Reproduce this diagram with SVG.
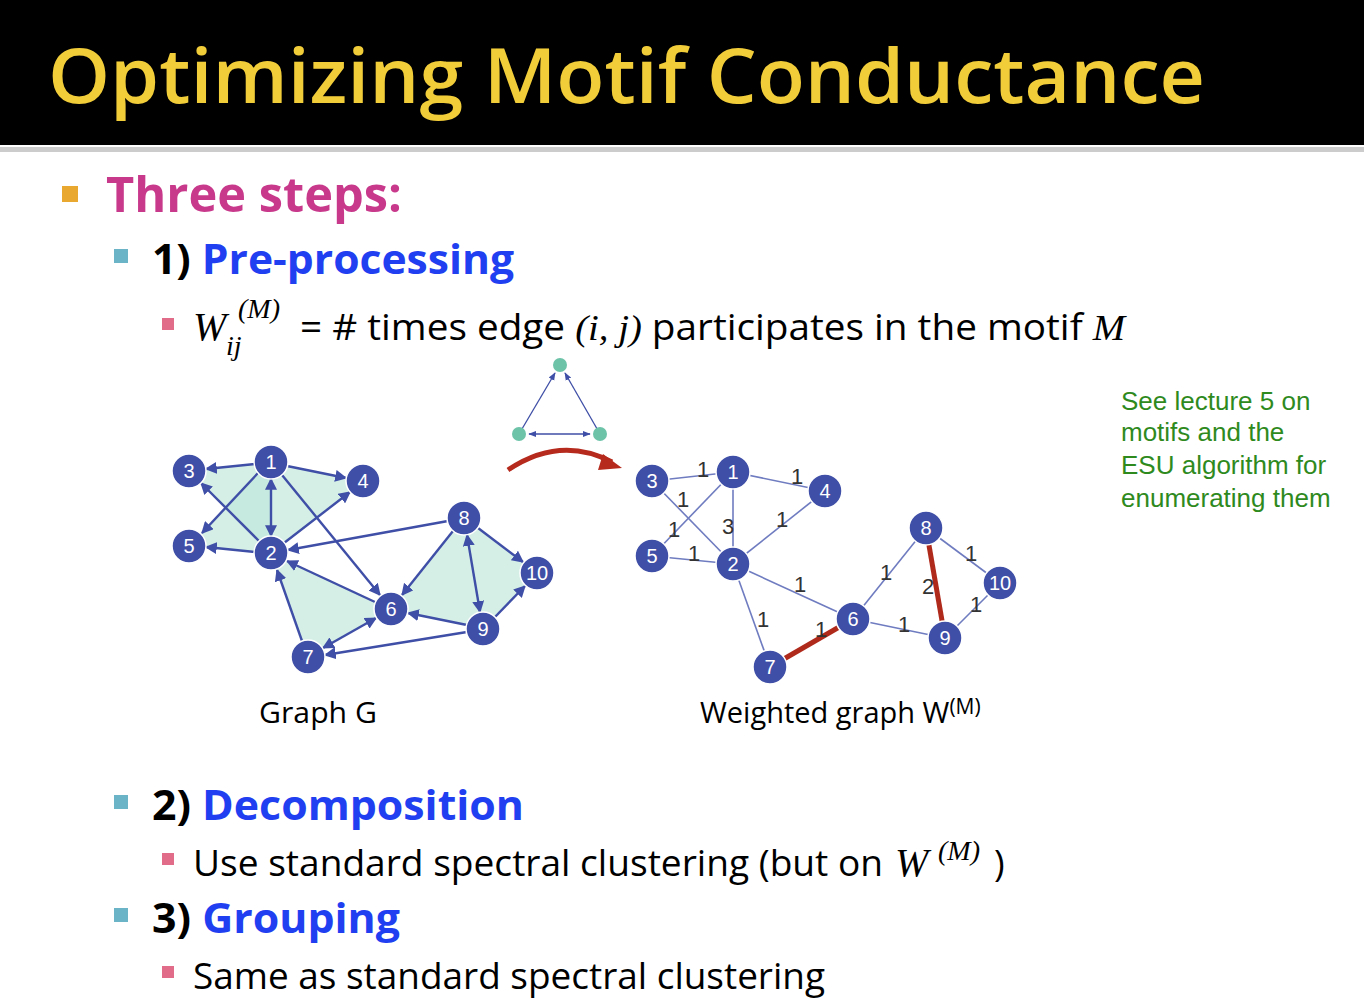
<svg xmlns="http://www.w3.org/2000/svg" width="1364" height="1008" viewBox="0 0 1364 1008">
<style>
.t{font-family:"Open Sans","Liberation Sans",sans-serif}
.m{font-family:"Liberation Serif",serif;font-style:italic}
.e{stroke:#3f4ea6;stroke-width:2.4;fill:none}
.w{stroke:#6f7cc0;stroke-width:1.6;fill:none}
.n circle{fill:#3f4ea6;stroke:#fff;stroke-width:1.5}
.n text{fill:#fff;font-family:"Liberation Sans",sans-serif;font-size:20px;text-anchor:middle}
.l{font-family:"Liberation Sans",sans-serif;font-size:22px;fill:#333}
.g{font-family:"Liberation Sans",sans-serif;font-size:26px;fill:#2f8a1e}
.tri{fill:#bfe6da;fill-opacity:0.65}
</style>
<defs>
<marker id="a" viewBox="0 0 10 10" refX="9" refY="5" markerWidth="5" markerHeight="5" orient="auto-start-reverse"><path d="M0,0L10,5L0,10z" fill="#3f4ea6"/></marker>
<marker id="s" viewBox="0 0 10 10" refX="9" refY="5" markerWidth="6" markerHeight="6" orient="auto-start-reverse"><path d="M0,1L10,5L0,9z" fill="#3f4ea6"/></marker>
</defs>
<rect width="1364" height="145" fill="#000"/>
<rect y="147" width="1364" height="5" fill="#ccc"/>
<text x="48" y="103" class="t" font-size="76" fill="#f2cd3a" font-weight="600" textLength="1157" lengthAdjust="spacingAndGlyphs">Optimizing Motif Conductance</text>
<rect x="62" y="186" width="16" height="16" fill="#e9a930"/>
<text x="106" y="212" class="t" font-size="48" font-weight="bold" fill="#c8398c" textLength="296" lengthAdjust="spacingAndGlyphs">Three steps:</text>
<rect x="114" y="249" width="14" height="14" fill="#6bb4c8"/>
<text x="152" y="274" class="t" font-size="42" font-weight="bold" textLength="362" lengthAdjust="spacingAndGlyphs"><tspan fill="#000">1) </tspan><tspan fill="#1f3ff0">Pre-processing</tspan></text>
<rect x="162" y="318" width="12" height="12" fill="#e06c8a"/>
<text x="193" y="340" class="m" font-size="40">W</text>
<text x="238" y="318" class="m" font-size="28">(M)</text>
<text x="226" y="355" class="m" font-size="28">ij</text>
<text x="300" y="340" class="t" font-size="36" textLength="825" lengthAdjust="spacingAndGlyphs">= # times edge <tspan class="m">(i, j)</tspan> participates in the motif <tspan class="m">M</tspan></text>
<text class="g"><tspan x="1121" y="410">See lecture 5 on</tspan><tspan x="1121" y="441">motifs and the</tspan><tspan x="1121" y="474">ESU algorithm for</tspan><tspan x="1121" y="507">enumerating them</tspan></text>
<g id="motif">
<line x1="519" y1="434" x2="555" y2="373" stroke="#3f4ea6" stroke-width="1.3" marker-end="url(#s)"/>
<line x1="600" y1="434" x2="565" y2="373" stroke="#3f4ea6" stroke-width="1.3" marker-end="url(#s)"/>
<line x1="529" y1="434" x2="590" y2="434" stroke="#3f4ea6" stroke-width="1.3" marker-start="url(#s)" marker-end="url(#s)"/>
<circle cx="560" cy="365" r="7" fill="#6cc3a8"/><circle cx="519" cy="434" r="7" fill="#6cc3a8"/><circle cx="600" cy="434" r="7" fill="#6cc3a8"/>
</g>
<path d="M508,470 Q560,435 612,462" stroke="#b52a1d" stroke-width="5" fill="none"/>
<path d="M509,473 Q560,440 612,466" stroke="#fff" stroke-width="1" fill="none"/>
<path d="M603,454 L622,468 L598,470 z" fill="#b52a1d"/>
<g id="shading">
<polygon class="tri" points="271,462 189,471 271,553"/>
<polygon class="tri" points="271,462 189,546 271,553"/>
<polygon class="tri" points="271,462 363,481 271,553"/>
<polygon class="tri" points="271,553 391,609 308,657"/>
<polygon class="tri" points="464,518 391,609 483,629"/>
<polygon class="tri" points="464,518 537,573 483,629"/>
</g>
<g id="connectors-G" class="e">
<line x1="255" y1="464" x2="206" y2="469" marker-end="url(#a)"/>
<line x1="287" y1="466" x2="346" y2="478" marker-end="url(#a)"/>
<line x1="271" y1="479" x2="271" y2="536" marker-start="url(#a)" marker-end="url(#a)"/>
<line x1="258" y1="473" x2="202" y2="533" marker-end="url(#a)"/>
<line x1="259" y1="541" x2="201" y2="483" marker-end="url(#a)"/>
<line x1="255" y1="552" x2="206" y2="547" marker-end="url(#a)"/>
<line x1="284" y1="543" x2="350" y2="492" marker-end="url(#a)"/>
<line x1="282" y1="475" x2="380" y2="595" marker-end="url(#a)"/>
<line x1="448" y1="521" x2="288" y2="550" marker-end="url(#a)"/>
<line x1="375" y1="602" x2="287" y2="561" marker-end="url(#a)"/>
<line x1="302" y1="641" x2="277" y2="570" marker-end="url(#a)"/>
<line x1="323" y1="648" x2="376" y2="618" marker-start="url(#a)" marker-end="url(#a)"/>
<line x1="467" y1="625" x2="408" y2="613" marker-end="url(#a)"/>
<line x1="467" y1="632" x2="325" y2="655" marker-end="url(#a)"/>
<line x1="453" y1="531" x2="402" y2="595" marker-end="url(#a)"/>
<line x1="467" y1="535" x2="480" y2="612" marker-start="url(#a)" marker-end="url(#a)"/>
<line x1="478" y1="528" x2="523" y2="562" marker-end="url(#a)"/>
<line x1="495" y1="617" x2="525" y2="586" marker-end="url(#a)"/>
</g>
<g class="n">
<g id="g1"><circle cx="271" cy="462" r="17"/><text x="271" y="469">1</text></g>
<g id="g2"><circle cx="271" cy="553" r="17"/><text x="271" y="560">2</text></g>
<g id="g3"><circle cx="189" cy="471" r="17"/><text x="189" y="478">3</text></g>
<g id="g4"><circle cx="363" cy="481" r="17"/><text x="363" y="488">4</text></g>
<g id="g5"><circle cx="189" cy="546" r="17"/><text x="189" y="553">5</text></g>
<g id="g6"><circle cx="391" cy="609" r="17"/><text x="391" y="616">6</text></g>
<g id="g7"><circle cx="308" cy="657" r="17"/><text x="308" y="664">7</text></g>
<g id="g8"><circle cx="464" cy="518" r="17"/><text x="464" y="525">8</text></g>
<g id="g9"><circle cx="483" cy="629" r="17"/><text x="483" y="636">9</text></g>
<g id="g10"><circle cx="537" cy="573" r="17"/><text x="537" y="580">10</text></g>
</g>
<text x="259" y="723" class="t" font-size="29" textLength="118" lengthAdjust="spacingAndGlyphs">Graph G</text>
<g id="connectors-W">
<g class="w">
<line x1="652" y1="481" x2="733" y2="472"/>
<line x1="733" y1="472" x2="825" y2="491"/>
<line x1="733" y1="472" x2="733" y2="564"/>
<line x1="652" y1="481" x2="733" y2="564"/>
<line x1="733" y1="472" x2="652" y2="556"/>
<line x1="652" y1="556" x2="733" y2="564"/>
<line x1="733" y1="564" x2="825" y2="491"/>
<line x1="733" y1="564" x2="853" y2="619"/>
<line x1="733" y1="564" x2="770" y2="667"/>
<line x1="853" y1="619" x2="926" y2="528"/>
<line x1="853" y1="619" x2="945" y2="638"/>
<line x1="926" y1="528" x2="1000" y2="583"/>
<line x1="945" y1="638" x2="1000" y2="583"/>
</g>
<line x1="770" y1="667" x2="853" y2="619" stroke="#b02a1c" stroke-width="5"/>
<line x1="926" y1="528" x2="945" y2="638" stroke="#b02a1c" stroke-width="5"/>
<g class="l">
<text x="697" y="477">1</text><text x="791" y="484">1</text><text x="722" y="534">3</text>
<text x="677" y="507">1</text><text x="668" y="537">1</text><text x="688" y="561">1</text>
<text x="776" y="527">1</text><text x="794" y="592">1</text><text x="757" y="627">1</text>
<text x="815" y="637">1</text><text x="880" y="580">1</text><text x="922" y="594">2</text>
<text x="898" y="632">1</text><text x="965" y="561">1</text><text x="970" y="612">1</text>
</g>
</g>
<g class="n">
<g id="w1"><circle cx="733" cy="472" r="17"/><text x="733" y="479">1</text></g>
<g id="w2"><circle cx="733" cy="564" r="17"/><text x="733" y="571">2</text></g>
<g id="w3"><circle cx="652" cy="481" r="17"/><text x="652" y="488">3</text></g>
<g id="w4"><circle cx="825" cy="491" r="17"/><text x="825" y="498">4</text></g>
<g id="w5"><circle cx="652" cy="556" r="17"/><text x="652" y="563">5</text></g>
<g id="w6"><circle cx="853" cy="619" r="17"/><text x="853" y="626">6</text></g>
<g id="w7"><circle cx="770" cy="667" r="17"/><text x="770" y="674">7</text></g>
<g id="w8"><circle cx="926" cy="528" r="17"/><text x="926" y="535">8</text></g>
<g id="w9"><circle cx="945" cy="638" r="17"/><text x="945" y="645">9</text></g>
<g id="w10"><circle cx="1000" cy="583" r="17"/><text x="1000" y="590">10</text></g>
</g>
<text x="700" y="723" class="t" font-size="29">Weighted graph W<tspan font-size="21" dy="-9">(M)</tspan></text>
<rect x="114" y="795" width="14" height="14" fill="#6bb4c8"/>
<text x="152" y="820" class="t" font-size="42" font-weight="bold" textLength="372" lengthAdjust="spacingAndGlyphs"><tspan fill="#000">2) </tspan><tspan fill="#1f3ff0">Decomposition</tspan></text>
<rect x="162" y="853" width="12" height="12" fill="#e06c8a"/>
<text x="193" y="876" class="t" font-size="36" textLength="690" lengthAdjust="spacingAndGlyphs">Use standard spectral clustering (but on</text>
<text x="895" y="876" class="m" font-size="40">W</text>
<text x="938" y="860" class="m" font-size="28">(M)</text>
<text x="994" y="876" class="t" font-size="36">)</text>
<rect x="114" y="908" width="14" height="14" fill="#6bb4c8"/>
<text x="152" y="933" class="t" font-size="42" font-weight="bold" textLength="248" lengthAdjust="spacingAndGlyphs"><tspan fill="#000">3) </tspan><tspan fill="#1f3ff0">Grouping</tspan></text>
<rect x="162" y="966" width="12" height="12" fill="#e06c8a"/>
<text x="193" y="989" class="t" font-size="36" textLength="632" lengthAdjust="spacingAndGlyphs">Same as standard spectral clustering</text>
</svg>
